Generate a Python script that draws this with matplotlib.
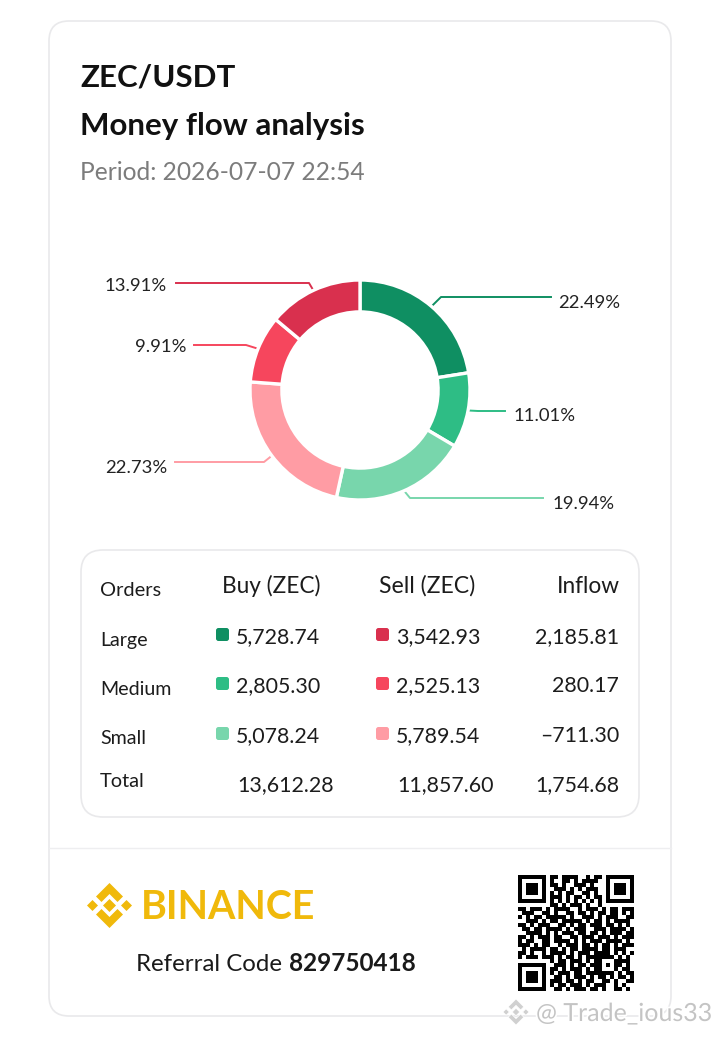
import numpy as np
import matplotlib
matplotlib.use('Agg')
import matplotlib.pyplot as plt
from matplotlib.patches import FancyBboxPatch, Polygon
import matplotlib.patheffects as pe

plt.rcParams['font.family'] = ['Lato', 'DejaVu Sans']

W, H = 720, 1037

# table data
orders = ['Large', 'Medium', 'Small']
buy = [5728.74, 2805.30, 5078.24]
sell = [3542.93, 2525.13, 5789.54]
inflow = [2185.81, 280.17, -711.30]
total_buy = 13612.28
total_sell = 11857.60
total_inflow = 1754.68

buy_colors = ['#0F8F62', '#2EBD85', '#78D6AC']
sell_colors = ['#D9304E', '#F6465D', '#FF9CA4']

# pie goes clockwise from the top: buys, then sells reversed
pie_values = buy + sell[::-1]
pie_colors = buy_colors + sell_colors[::-1]

# leader lines: elbow and end in px, then label x, baseline, alignment
leaders = [
    ((441, 297), (551, 297), 558, 308, 'left'),
    ((478, 411), (505, 411), 514, 421, 'left'),
    ((410, 498), (543, 498), 553, 509, 'left'),
    ((264, 462), (175, 462), 167, 473, 'right'),
    ((246, 345), (194, 345), 186, 352, 'right'),
    ((309, 283), (176, 283), 167, 291, 'right'),
]

qr_rows = [
    '#######.##.####..#.##.#######',
    '#.....#.#..##.#.####..#.....#',
    '#.###.#.##.#..###.#...#.###.#',
    '#.###.#..###.#.#.###..#.###.#',
    '#.###.#.#.#.##..##.#..#.###.#',
    '#.....#.###.#.##.#.##.#.....#',
    '#######.#.#.#.#.#.#.#.#######',
    '........##.#.###.#..#........',
    '##.###.#.####..#.###.#.##.###',
    '.###..##.#..##.##.#.##.##.#.#',
    '#.#.##.#####.#..###.#.###..##',
    '..###.#.##.#####.#.##.#.####.',
    '##.#.###..##.#.##.###.##.#.#.',
    '.##.##.####.#.###..###.####.#',
    '..####.#.#.###.##.##.#.###.##',
    '##.#.###.##..##.###.###.#.###',
    '#.##..##.####.#.#.###.####.#.',
    '###.#.##..#.###.##.#.##.#.###',
    '.#.####.##.#.##.####.##.###..',
    '##.#..#.####.#.###.####.#.#.#',
    '#.###.###.#.##.#.#######.#.#.',
    '........#.##.###.#.##...####.',
    '#######..###.#.##.###.#.##.#.',
    '#.....#.##.#.###.#.##...#.##.',
    '#.###.#.#.###.##.#######.#.##',
    '#.###.#..##.#.###.#.##.#.##.#',
    '#.###.#.###.##.#.##..##.#..##',
    '#.....#.#.##.###.#.###..#.#..',
    '#######..##.#.###.##.#..##.#.',
]

fig = plt.figure(figsize=(W / 100, H / 100), dpi=100, facecolor='white')

# whole figure axes in pixel coordinates
ax = fig.add_axes([0, 0, 1, 1])
ax.set_xlim(0, W)
ax.set_ylim(H, 0)
ax.axis('off')


def px(size):
    return size * 0.72


def box(x0, y0, x1, y1, r, color='#E9E9EB'):
    ax.add_patch(FancyBboxPatch((x0, y0), x1 - x0, y1 - y0,
                                boxstyle='round,pad=0,rounding_size=%d' % r,
                                fc='white', ec=color, lw=1.2))


box(49, 21, 671, 1016, 20)
box(81, 550, 639, 817, 22)
ax.plot([49, 671], [848, 848], color='#EEEEF0', lw=1)

# titles
ax.text(80, 87, 'ZEC/USDT', fontsize=px(31.3), fontweight='bold', color='#111111')
ax.text(80, 135, 'Money flow analysis', fontsize=px(31.3), fontweight='bold', color='#111111')
ax.text(80, 180, 'Period: 2026-07-07 22:54', fontsize=px(24.6), color='#7C7C7C')

# donut
cx, cy, radius = 360, 390, 110
pie_ax = fig.add_axes([(cx - radius) / W, 1 - (cy + radius) / H, 2 * radius / W, 2 * radius / H])
pie_ax.pie(pie_values, colors=pie_colors, startangle=90, counterclock=False, radius=1,
           wedgeprops={'width': 0.29, 'edgecolor': 'white', 'linewidth': 2.4})
pie_ax.set_xlim(-1, 1)
pie_ax.set_ylim(-1, 1)

total = sum(pie_values)
cum = 0
for v, c, (elbow, end, lx, ly, ha) in zip(pie_values, pie_colors, leaders):
    share = v / total
    ang = 2 * np.pi * (cum + share / 2)
    cum += share
    sx = cx + (radius - 1) * np.sin(ang)
    sy = cy - (radius - 1) * np.cos(ang)
    ax.plot([sx, elbow[0], end[0]], [sy, elbow[1], end[1]], color=c, lw=1.4,
            solid_joinstyle='round')
    ax.text(lx, ly, '%.2f%%' % (share * 100), fontsize=px(18.5), color='#222222', ha=ha)

# table
dark = '#1C1C1C'
ax.text(100, 596, 'Orders', fontsize=px(20), color=dark)
ax.text(222, 593, 'Buy (ZEC)', fontsize=px(22.6), color=dark)
ax.text(379, 593, 'Sell (ZEC)', fontsize=px(23), color=dark)
ax.text(620, 593, 'Inflow', fontsize=px(22.6), color=dark, ha='right')

label_y = [646, 695, 744]
value_y = [643, 692, 742]
for i, name in enumerate(orders):
    ax.text(100, label_y[i], name, fontsize=px(19.6), color=dark)
    for x0, vals, cols in ((216, buy, buy_colors), (376, sell, sell_colors)):
        ax.add_patch(FancyBboxPatch((x0, value_y[i] - 15), 13, 13,
                                    boxstyle='round,pad=0,rounding_size=2.5',
                                    fc=cols[i], ec='none'))
        ax.text(x0 + 20, value_y[i], format(vals[i], ',.2f'), fontsize=px(21.4), color=dark)
    ax.text(619, value_y[i], format(inflow[i], ',.2f').replace('-', '\u2013'),
            fontsize=px(21.4), color=dark, ha='right')

ax.text(100, 787, 'Total', fontsize=px(20), color=dark)
ax.text(237, 791, format(total_buy, ',.2f'), fontsize=px(21.4), color=dark)
ax.text(397, 791, format(total_sell, ',.2f'), fontsize=px(21.4), color=dark)
ax.text(619, 791, format(total_inflow, ',.2f'), fontsize=px(21.4), color=dark, ha='right')


# binance logo
def diamond_logo(x, y, s, **kw):
    # s is half the width of the mark
    u = s / 22.5
    shapes = [
        [(0, -6.5), (6.5, 0), (0, 6.5), (-6.5, 0)],
        [(-22.5, 0), (-17, -5.5), (-11.5, 0), (-17, 5.5)],
        [(22.5, 0), (17, -5.5), (11.5, 0), (17, 5.5)],
        [(0, -22.5), (13.5, -9), (8, -3.5), (0, -11.5), (-8, -3.5), (-13.5, -9)],
        [(0, 22.5), (13.5, 9), (8, 3.5), (0, 11.5), (-8, 3.5), (-13.5, 9)],
    ]
    for pts in shapes:
        ax.add_patch(Polygon([(x + a * u, y + b * u) for a, b in pts], closed=True, **kw))


gold = '#F0B90B'
diamond_logo(109.5, 905.5, 22.5, fc=gold, ec='none')
ax.text(141, 919, 'BINANCE', fontsize=px(39.5), fontweight='bold', color=gold)

ax.text(136, 971, 'Referral Code', fontsize=px(24), color='#1A1A1A')
ax.text(289, 971, '829750418', fontsize=px(24.2), fontweight='bold', color='#1A1A1A')

# qr code
qr = np.array([[ch == '#' for ch in row] for row in qr_rows], dtype=float)
ax.imshow(qr, cmap='gray_r', vmin=0, vmax=1, extent=(518, 634, 991, 875),
          interpolation='nearest', aspect='auto', zorder=3)
ax.set_xlim(0, W)
ax.set_ylim(H, 0)

# watermark
halo = [pe.withStroke(linewidth=2.5, foreground='white')]
ax.text(536, 1021, '@ Trade_ious33', fontsize=px(25), color='#C4C4C4', zorder=5, path_effects=halo)
diamond_logo(516, 1012, 13, fc='#D0D0D0', ec='white', lw=0.5, zorder=5)

fig.savefig('out.png', dpi=100)
